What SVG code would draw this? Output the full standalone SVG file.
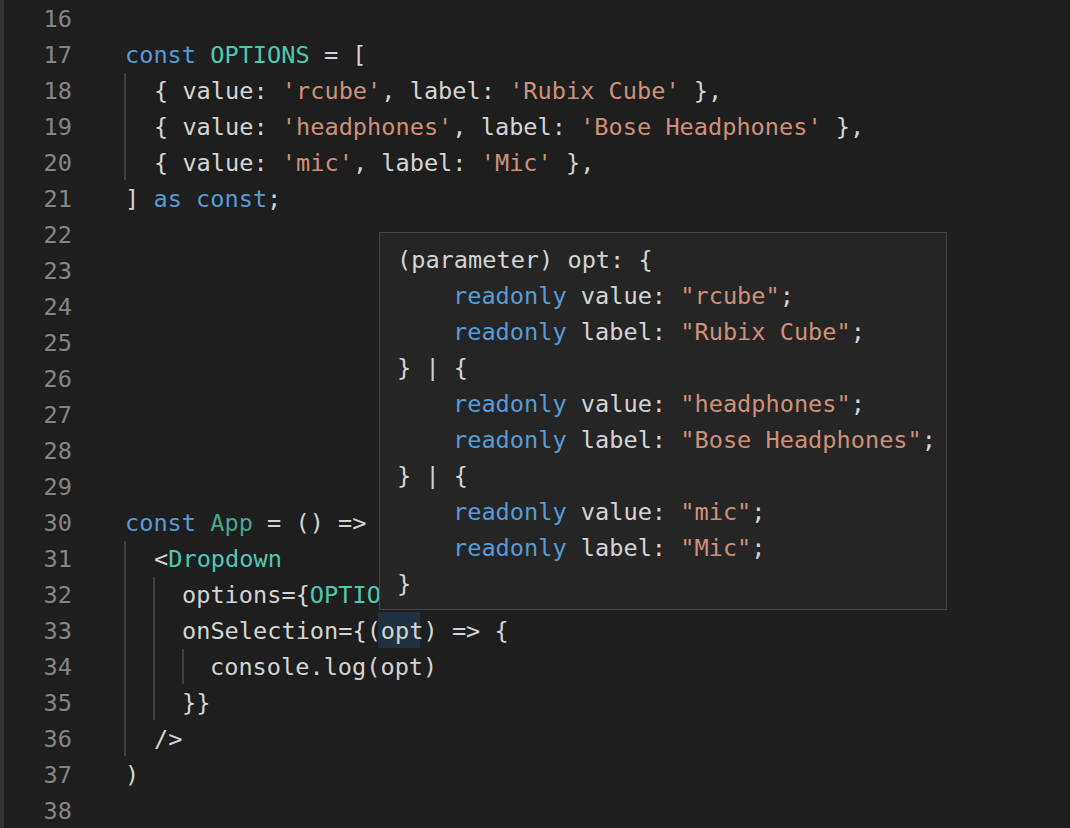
<svg xmlns="http://www.w3.org/2000/svg" width="1070" height="828" viewBox="0 0 1070 828">
<style>
text{font-family:"DejaVu Sans Mono","Liberation Mono",monospace;font-size:23.6px;fill:#d4d4d4;white-space:pre}
.ln{fill:#858585;text-anchor:end}
.k{fill:#569cd6}.c{fill:#4ec9b0}.a{fill:#45a88e}.s{fill:#ce9178}
.g{stroke:#404040;stroke-width:2}
</style>
<rect width="1070" height="828" fill="#1e1e1e"/>
<rect x="0" y="0" width="4" height="828" fill="#333"/>
<g class="ln-col">
<text class="ln" x="72" y="27">16</text>
<text class="ln" x="72" y="63">17</text>
<text class="ln" x="72" y="99">18</text>
<text class="ln" x="72" y="135">19</text>
<text class="ln" x="72" y="171">20</text>
<text class="ln" x="72" y="207">21</text>
<text class="ln" x="72" y="243">22</text>
<text class="ln" x="72" y="279">23</text>
<text class="ln" x="72" y="315">24</text>
<text class="ln" x="72" y="351">25</text>
<text class="ln" x="72" y="387">26</text>
<text class="ln" x="72" y="423">27</text>
<text class="ln" x="72" y="459">28</text>
<text class="ln" x="72" y="495">29</text>
<text class="ln" x="72" y="531">30</text>
<text class="ln" x="72" y="567">31</text>
<text class="ln" x="72" y="603">32</text>
<text class="ln" x="72" y="639">33</text>
<text class="ln" x="72" y="675">34</text>
<text class="ln" x="72" y="711">35</text>
<text class="ln" x="72" y="747">36</text>
<text class="ln" x="72" y="783">37</text>
<text class="ln" x="72" y="819">38</text>
</g>
<g>
<line class="g" x1="125" y1="73" x2="125" y2="180"/>
<line class="g" x1="125" y1="541" x2="125" y2="756"/>
<line class="g" x1="154" y1="577" x2="154" y2="720"/>
<line class="g" x1="183" y1="649" x2="183" y2="684"/>
</g>
<rect x="378" y="612" width="42" height="36" fill="#21303e"/>
<g>
<text x="125" y="63"><tspan class="k">const</tspan> <tspan class="c">OPTIONS</tspan> = [</text>
<text x="154" y="99">{ value: <tspan class="s">'rcube'</tspan>, label: <tspan class="s">'Rubix Cube'</tspan> },</text>
<text x="154" y="135">{ value: <tspan class="s">'headphones'</tspan>, label: <tspan class="s">'Bose Headphones'</tspan> },</text>
<text x="154" y="171">{ value: <tspan class="s">'mic'</tspan>, label: <tspan class="s">'Mic'</tspan> },</text>
<text x="125" y="207">] <tspan class="k">as</tspan> <tspan class="k">const</tspan>;</text>
<text x="125" y="531"><tspan class="k">const</tspan> <tspan class="a">App</tspan> = () =&gt;</text>
<text x="154" y="567">&lt;<tspan class="c">Dropdown</tspan></text>
<text x="182" y="603">options={<tspan class="c">OPTIO</tspan></text>
<text x="182" y="639">onSelection={(opt) =&gt; {</text>
<text x="210" y="675">console.log(opt)</text>
<text x="182" y="711">}}</text>
<text x="154" y="747">/&gt;</text>
<text x="125" y="783">)</text>
</g>
<g id="tooltip">
<rect x="379.5" y="232.5" width="567" height="377" fill="#252526" stroke="#454545"/>
<text x="397" y="268">(parameter) opt: {</text>
<text x="453" y="304"><tspan class="k">readonly</tspan> value: <tspan class="s">"rcube"</tspan>;</text>
<text x="453" y="340"><tspan class="k">readonly</tspan> label: <tspan class="s">"Rubix Cube"</tspan>;</text>
<text x="397" y="376">} | {</text>
<text x="453" y="412"><tspan class="k">readonly</tspan> value: <tspan class="s">"headphones"</tspan>;</text>
<text x="453" y="448"><tspan class="k">readonly</tspan> label: <tspan class="s">"Bose Headphones"</tspan>;</text>
<text x="397" y="484">} | {</text>
<text x="453" y="520"><tspan class="k">readonly</tspan> value: <tspan class="s">"mic"</tspan>;</text>
<text x="453" y="556"><tspan class="k">readonly</tspan> label: <tspan class="s">"Mic"</tspan>;</text>
<text x="397" y="592">}</text>
</g>
</svg>
